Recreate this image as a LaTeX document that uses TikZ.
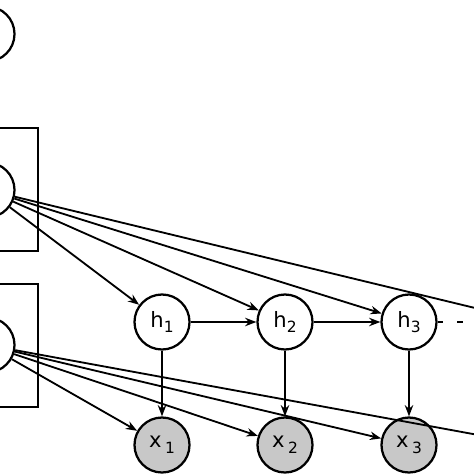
\documentclass[tikz,border=0pt]{standalone}
\usepackage{fontspec}
\setmainfont{DejaVu Sans}
\usetikzlibrary{arrows.meta}

\definecolor{obsgray}{RGB}{200,200,200}
\newcommand{\sublab}[2]{#1\raisebox{-0.5ex}{\fontsize{11}{12}\selectfont #2}}

\begin{document}
\begin{tikzpicture}[x=0.025cm, y=-0.025cm,
    latent/.style={circle, draw, line width=1.6pt, minimum size=1.375cm, inner sep=0pt, fill=white, font=\fontsize{15}{17}\selectfont},
    observed/.style={latent, fill=obsgray},
    edge/.style={line width=1.3pt, -{Stealth[length=8pt,width=6pt]}},
    plate/.style={draw, line width=1.5pt}]
    \useasboundingbox (0,0) rectangle (474,474);
    \clip (0,0) rectangle (474,474);

    % Plates round the two prior nodes
    \draw[plate] (-64,128) rectangle (38,251);
    \draw[plate] (-64,284) rectangle (38,407);

    % Nodes on the left
    \node[latent] (topvar) at (-13,34) {};
    \node[latent] (hprior) at (-13,190) {};
    \node[latent] (xprior) at (-13,345) {};

    % Hidden chain and observations
    \node[latent] (h1) at (162,322) {\sublab{h}{1}};
    \node[latent] (h2) at (285,322) {\sublab{h}{2}};
    \node[latent] (h3) at (409,322) {\sublab{h}{3}};
    \node[observed] (x1) at (162,445) {\sublab{x\,}{1}};
    \node[observed] (x2) at (285,445) {\sublab{x\,}{2}};
    \node[observed] (x3) at (409,445) {\sublab{x\,}{3}};
    \coordinate (h4) at (533,322);
    \coordinate (x4) at (533,445);

    % Edges
    \foreach \t in {h1,h2,h3,h4}
        \draw[edge] (hprior) -- (\t);
    \foreach \t in {x1,x2,x3,x4}
        \draw[edge] (xprior) -- (\t);
    \draw[edge] (h1) -- (h2);
    \draw[edge] (h2) -- (h3);
    \foreach \i in {1,2,3}
        \draw[edge] (h\i) -- (x\i);
    \draw[line width=1.3pt, dash pattern=on 4pt off 10pt] (h3) -- (h4);
\end{tikzpicture}
\end{document}
